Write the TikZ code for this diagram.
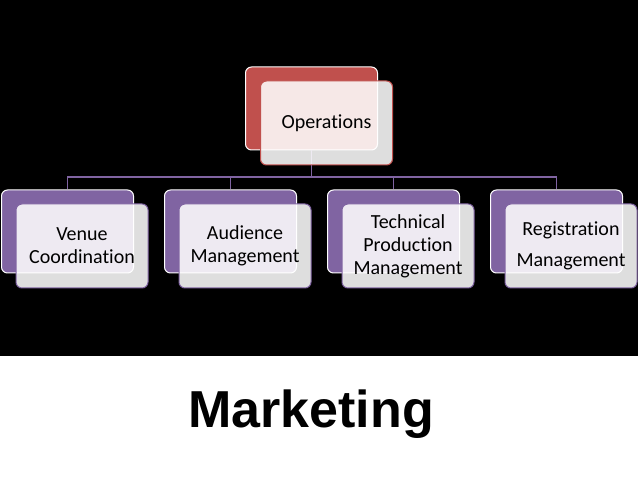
\documentclass[tikz,border=0pt]{standalone}
\usepackage{fontspec}
\setmainfont{Carlito}[Ligatures={NoCommon}]
\newfontfamily\headfont{Liberation Sans}
\usetikzlibrary{positioning}

\definecolor{purp}{HTML}{8064A2}
\definecolor{redbox}{HTML}{C0504D}

\begin{document}
\begin{tikzpicture}[
  x=1pt, y=-1pt,
  font=\fontsize{20}{23}\selectfont,
  backbox/.style ={rounded corners=6pt, draw=white, line width=1pt, fill=#1, minimum width=132pt, minimum height=83pt},
  frontbox/.style={rounded corners=6pt, draw=#1, line width=1pt, fill=white, fill opacity=0.87, text opacity=1, align=center, inner sep=2pt, minimum width=132pt, minimum height=84pt},
  tree/.style    ={draw=purp, line width=1.4pt},
]

% ---------- canvas ----------
\fill[white] (0,0) rectangle (638,478);
\fill[black] (0,0) rectangle (638,356);

% ---------- top ----------
\node[backbox=redbox] (opsback) at (311.5,108.5) {};

% ---------- second row (back) ----------
\node[backbox=purp] (venueback) at (67.5,231.5) {};
\node[backbox=purp] (audback)   at (230.5,231.5) {};
\node[backbox=purp] (techback)  at (393.5,231.5) {};
\node[backbox=purp] (regback)   at (556.5,231.5) {};

% ---------- connectors ----------
\coordinate (bus) at (311.5,177);
\draw[tree] (opsback.south) -- (bus);
\foreach \b in {venueback, audback, techback, regback}
  \draw[tree] (bus) -| (\b.north);

% ---------- front boxes ----------
\node[frontbox=redbox] (ops)   at (326.5,123) {Operations};
\node[frontbox=purp]   (venue) at (82,246)  {Venue\\Coordination};
\node[frontbox=purp]   (aud)   at (245,246) {Audience\\Management};
\node[frontbox=purp]   (tech)  at (408,246) {Technical\\Production\\Management};
\node[frontbox=purp]   (reg)   at (571,246) {Registration\\[8pt]Management};

% ---------- title ----------
\node[font=\headfont\bfseries\fontsize{52}{60}\selectfont] (title) at (311,414) {Marketing};

\end{tikzpicture}
\end{document}
